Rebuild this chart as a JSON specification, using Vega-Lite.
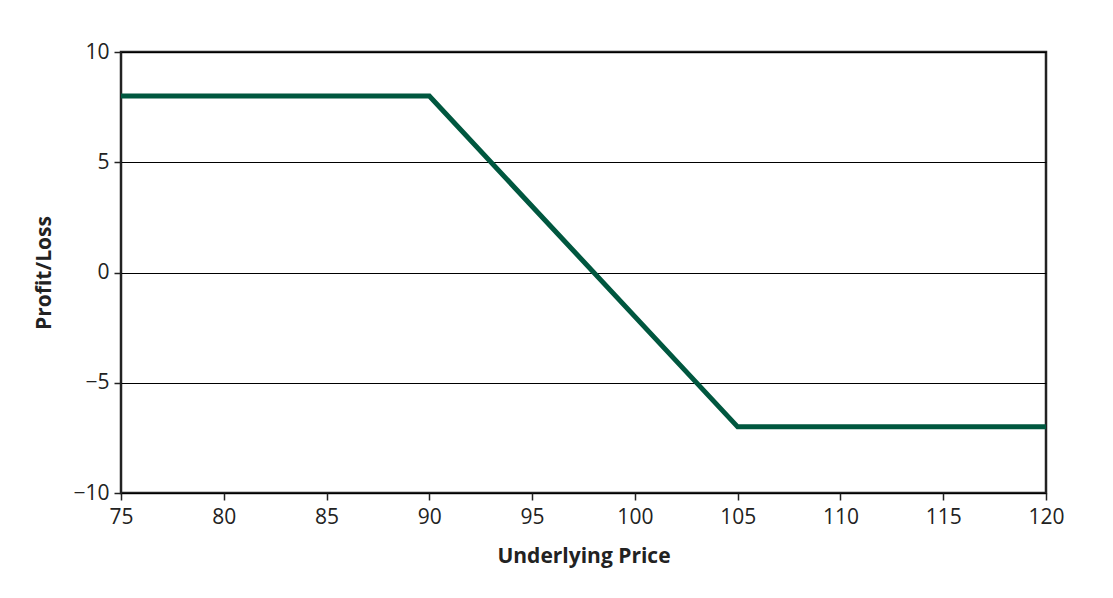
{
  "$schema": "https://vega.github.io/schema/vega-lite/v6.json",
  "description": "Profit/loss of a position against the underlying price.",
  "autosize": "none",
  "width": 925,
  "height": 441,
  "padding": {"left": 121, "top": 52, "right": 67, "bottom": 105},
  "background": "white",
  "config": {
    "font": "Open Sans",
    "view": {"stroke": "#222222", "strokeWidth": 2.5}
  },
  "data": {
    "values": [
      {"price": 75, "pl": 8},
      {"price": 90, "pl": 8},
      {"price": 105, "pl": -7},
      {"price": 120, "pl": -7}
    ]
  },
  "mark": {"type": "line", "color": "#00573f", "strokeWidth": 5, "strokeCap": "butt", "strokeJoin": "miter"},
  "encoding": {
    "x": {
      "field": "price",
      "type": "quantitative",
      "title": "Underlying Price",
      "scale": {"domain": [75, 120], "nice": false, "zero": false},
      "axis": {
        "values": [75, 80, 85, 90, 95, 100, 105, 110, 115, 120],
        "grid": false,
        "domain": false,
        "labelFlush": false,
        "labelFont": "Open Sans",
        "labelFontSize": 21,
        "labelColor": "#222222",
        "labelPadding": 6,
        "tickColor": "#222222",
        "tickSize": 7,
        "tickWidth": 1.5,
        "titleFont": "Open Sans",
        "titleFontSize": 21,
        "titleFontWeight": "bold",
        "titleColor": "#222222",
        "titlePadding": 18
      }
    },
    "y": {
      "field": "pl",
      "type": "quantitative",
      "title": "Profit/Loss",
      "scale": {"domain": [-10, 10], "nice": false},
      "axis": {
        "values": [-10, -5, 0, 5, 10],
        "grid": true,
        "gridColor": "#000000",
        "gridWidth": 1,
        "gridOpacity": 1,
        "domain": false,
        "labelFont": "Open Sans",
        "labelFontSize": 21,
        "labelColor": "#222222",
        "labelPadding": 5,
        "tickColor": "#222222",
        "tickSize": 7,
        "tickWidth": 1.5,
        "titleFont": "Open Sans",
        "titleFontSize": 21,
        "titleFontWeight": "bold",
        "titleColor": "#222222",
        "titlePadding": 18
      }
    }
  }
}
